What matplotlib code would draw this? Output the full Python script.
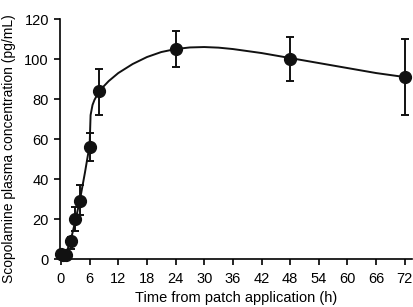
import matplotlib
matplotlib.use('Agg')
import matplotlib.pyplot as plt

# observed mean concentrations
time_h = [0, 0.5, 1, 2, 3, 4, 6, 8, 24, 48, 72]
conc = [2.5, 2, 2, 9, 20, 29, 56, 84, 105, 100, 91]
err_lo = [0, 0, 0, 4, 6, 7, 7, 12, 9, 11, 19]
err_hi = [0, 0, 0, 2, 6, 8, 7, 11, 9, 11, 19]

# fitted curve
curve_t = [0, 1, 2, 3, 4, 5, 6, 6.2, 6.6, 7, 8, 10, 12, 15, 18, 21, 24, 27, 30, 33, 36, 42, 48, 54, 60, 66, 72]
curve_c = [2, 2.5, 9, 19, 30, 43, 57, 72, 77, 79.5, 84, 89, 93, 97.5, 101, 103.5, 105, 105.8, 106, 105.7, 105, 103, 100.5, 98, 95.5, 93, 91]

plt.rcParams['font.family'] = ['Liberation Sans', 'DejaVu Sans']

fig = plt.figure(figsize=(4.14, 3.07), dpi=100)
ax = fig.add_axes([0.145, 0.156, 0.85, 0.782])

ax.plot(curve_t, curve_c, color='#111111', lw=1.4, zorder=2)
ax.errorbar(time_h, conc, yerr=[err_lo, err_hi], fmt='o', color='#111111',
            ms=8.5, elinewidth=1.4, capsize=3, capthick=1.4, clip_on=False, zorder=3)

ax.set_xlim(-0.2, 73.5)
ax.set_ylim(0, 120)
ax.set_xticks(range(0, 73, 6))
ax.set_yticks(range(0, 121, 20))
for s in ['top', 'right']:
    ax.spines[s].set_visible(False)
ax.spines['left'].set_linewidth(1.2)
ax.spines['bottom'].set_linewidth(1.2)
ax.tick_params(direction='out', length=4, width=1.2, labelsize=10.5, pad=4)
ax.tick_params(axis='x', pad=5)

ax.set_xlabel('Time from patch application (h)', fontsize=10.5, labelpad=4)
ax.set_ylabel('Scopolamine plasma concentration (pg/mL)', fontsize=10, labelpad=5)
ax.yaxis.set_label_coords(-0.125, 0.46)

fig.savefig('out.png', dpi=100)
